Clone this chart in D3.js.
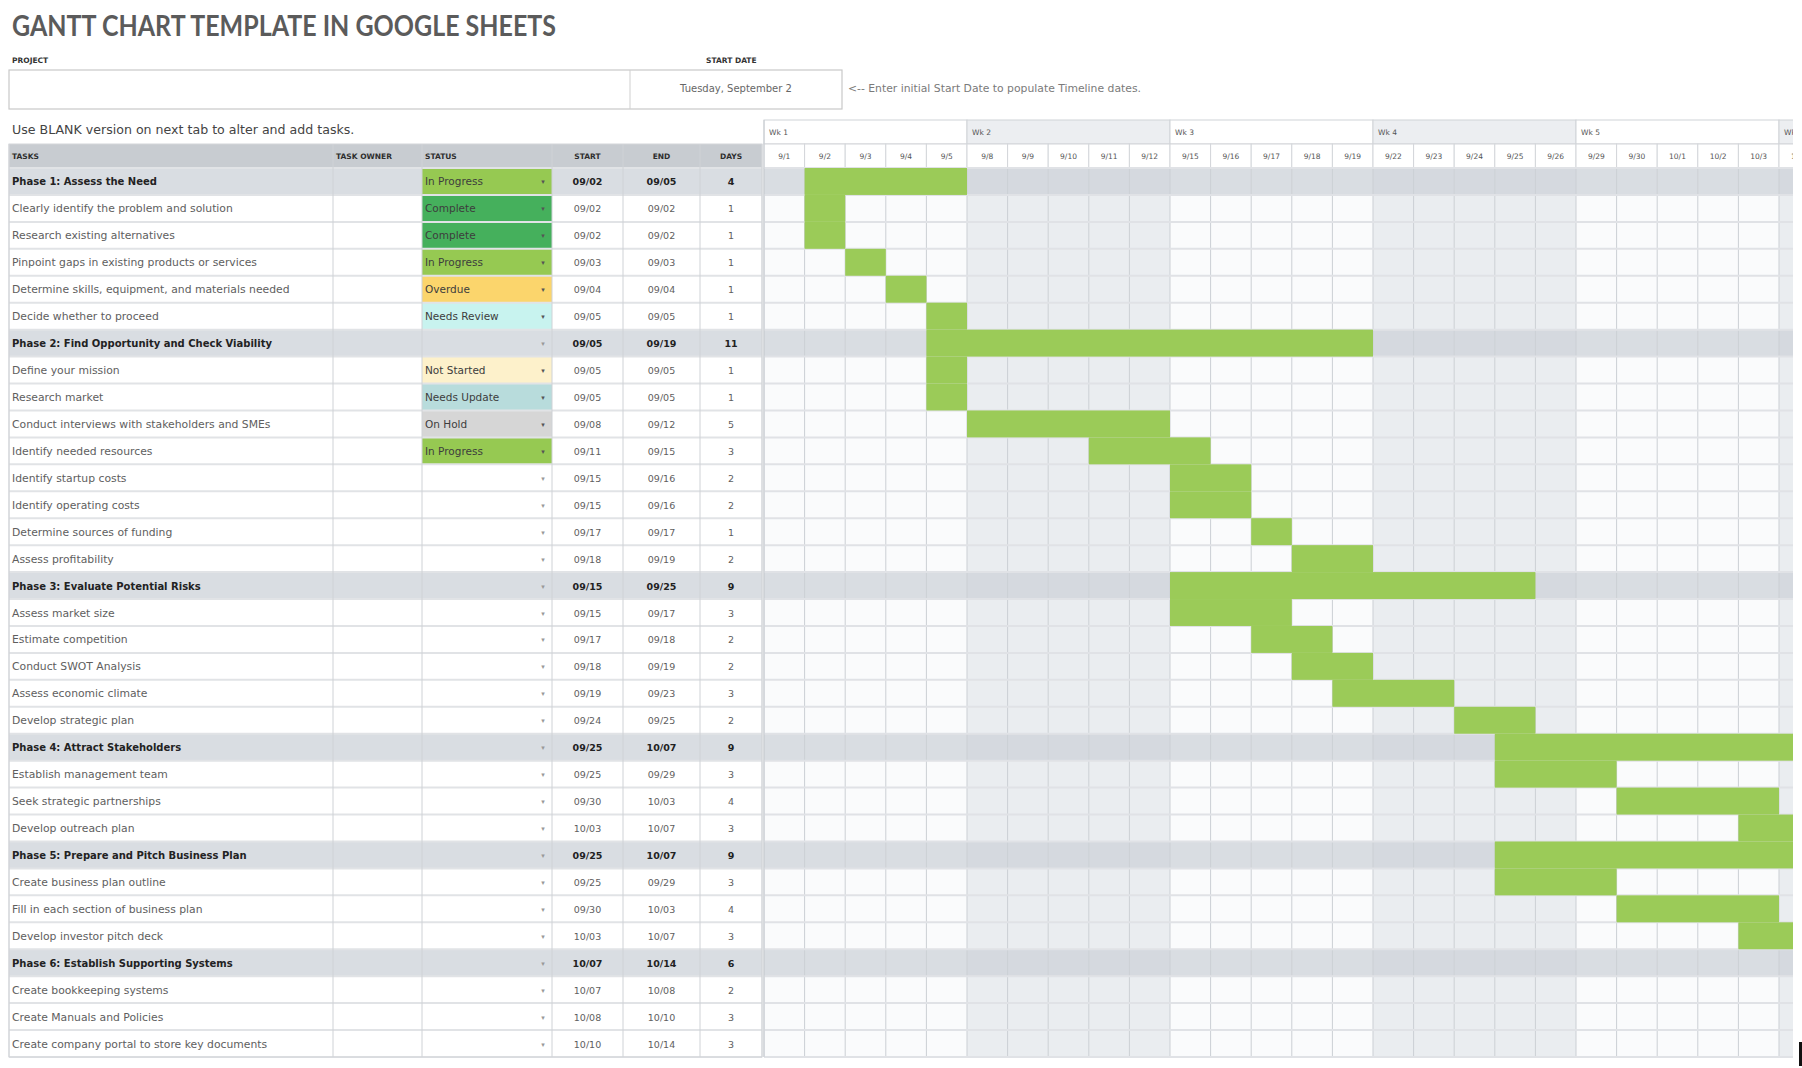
<!DOCTYPE html>
<html>
<head>
<meta charset="utf-8">
<script src="https://cdn.jsdelivr.net/npm/d3@7/dist/d3.min.js"></script>
<style>
  html, body { margin: 0; padding: 0; background: #ffffff; }
  svg { display: block; }
</style>
</head>
<body>
<svg id="chart" width="1802" height="1068"></svg>
<script>
// ---------------- DATA ----------------
const titleText = "GANTT CHART TEMPLATE IN GOOGLE SHEETS";
const startDateText = "Tuesday, September 2";
const noteText = "<-- Enter initial Start Date to populate Timeline dates.";
const hintText = "Use BLANK version on next tab to alter and add tasks.";
const headerLabels = ["TASKS", "TASK OWNER", "STATUS", "START", "END", "DAYS"];

const weekLabels = ["Wk 1", "Wk 2", "Wk 3", "Wk 4", "Wk 5", "Wk 6"];
const dayLabels = ["9/1","9/2","9/3","9/4","9/5","9/8","9/9","9/10","9/11","9/12",
  "9/15","9/16","9/17","9/18","9/19","9/22","9/23","9/24","9/25","9/26",
  "9/29","9/30","10/1","10/2","10/3","10/6","10/7","10/8","10/9","10/10","10/13","10/14"];

const tasks = [
  "Phase 1: Assess the Need",
  "Clearly identify the problem and solution",
  "Research existing alternatives",
  "Pinpoint gaps in existing products or services",
  "Determine skills, equipment, and materials needed",
  "Decide whether to proceed",
  "Phase 2: Find Opportunity and Check Viability",
  "Define your mission",
  "Research market",
  "Conduct interviews with stakeholders and SMEs",
  "Identify needed resources",
  "Identify startup costs",
  "Identify operating costs",
  "Determine sources of funding",
  "Assess profitability",
  "Phase 3: Evaluate Potential Risks",
  "Assess market size",
  "Estimate competition",
  "Conduct SWOT Analysis",
  "Assess economic climate",
  "Develop strategic plan",
  "Phase 4: Attract Stakeholders",
  "Establish management team",
  "Seek strategic partnerships",
  "Develop outreach plan",
  "Phase 5: Prepare and Pitch Business Plan",
  "Create business plan outline",
  "Fill in each section of business plan",
  "Develop investor pitch deck",
  "Phase 6: Establish Supporting Systems",
  "Create bookkeeping systems",
  "Create Manuals and Policies",
  "Create company portal to store key documents"
];
const owners = tasks.map(() => "");
const statuses = [
  "In Progress", "Complete", "Complete", "In Progress", "Overdue", "Needs Review",
  "", "Not Started", "Needs Update", "On Hold", "In Progress", "", "", "", "",
  "", "", "", "", "", "",
  "", "", "", "",
  "", "", "", "",
  "", "", "", ""
];
const starts = ["09/02","09/02","09/02","09/03","09/04","09/05",
  "09/05","09/05","09/05","09/08","09/11","09/15","09/15","09/17","09/18",
  "09/15","09/15","09/17","09/18","09/19","09/24",
  "09/25","09/25","09/30","10/03",
  "09/25","09/25","09/30","10/03",
  "10/07","10/07","10/08","10/10"];
const ends = ["09/05","09/02","09/02","09/03","09/04","09/05",
  "09/19","09/05","09/05","09/12","09/15","09/16","09/16","09/17","09/19",
  "09/25","09/17","09/18","09/19","09/23","09/25",
  "10/07","09/29","10/03","10/07",
  "10/07","09/29","10/03","10/07",
  "10/14","10/08","10/10","10/14"];
const days = [4,1,1,1,1,1, 11,1,1,5,3,2,2,1,2, 9,3,2,2,3,2, 9,3,4,3, 9,3,4,3, 6,2,3,3];

const statusColors = {
  "In Progress": "#96c952",
  "Complete": "#45b05c",
  "Overdue": "#fbd56c",
  "Needs Review": "#c8f3ef",
  "Not Started": "#fdf1cb",
  "Needs Update": "#b8dcdc",
  "On Hold": "#d6d6d6"
};

// ---------------- LAYOUT ----------------
const FONT = "'DejaVu Sans', sans-serif";
const svg = d3.select("#chart");
const colX = [9, 333, 422, 552, 623, 700, 762];   // table column boundaries
const tlX0 = 764, colW = 40.6, tlClip = 1793;
const weekTop = 120, headTop = 144, rowsTop = 168, rowsBottom = 1057;

const isPhase = tasks.map(t => /^Phase/.test(t));
const y = d3.scaleBand().domain(d3.range(tasks.length)).range([rowsTop, rowsBottom]);
const x = d3.scaleBand().domain(dayLabels).range([tlX0, tlX0 + colW * dayLabels.length]);
const toLabel = s => { const [m, d] = s.split("/"); return (+m) + "/" + (+d); };
const weekOf = i => Math.floor(i / 5);
const visibleDays = dayLabels.filter(d => x(d) < tlClip);
const visibleWeeks = weekLabels.filter((w, i) => x(dayLabels[i * 5]) < tlClip);

// ---------------- TITLE AREA ----------------
svg.append("text").attr("x", 12).attr("y", 36)
  .attr("font-family", "Lato, 'Open Sans', sans-serif").attr("font-weight", 700)
  .attr("font-size", 28).attr("fill", "#5b5b5b")
  .attr("textLength", 544).attr("lengthAdjust", "spacingAndGlyphs")
  .text(titleText);

svg.append("text").attr("x", 12).attr("y", 63).attr("font-family", FONT)
  .attr("font-weight", 700).attr("font-size", 7.5).attr("fill", "#333").text("PROJECT");
svg.append("text").attr("x", 706).attr("y", 63).attr("font-family", FONT)
  .attr("font-weight", 700).attr("font-size", 7.5).attr("fill", "#333").text("START DATE");

svg.append("rect").attr("x", 9).attr("y", 70).attr("width", 833).attr("height", 39)
  .attr("fill", "#fff").attr("stroke", "#c9c9c9").attr("stroke-width", 1.2);
svg.append("line").attr("x1", 630).attr("x2", 630).attr("y1", 70).attr("y2", 109)
  .attr("stroke", "#cfcfcf");
svg.append("text").attr("x", 736).attr("y", 92).attr("text-anchor", "middle")
  .attr("font-family", FONT).attr("font-size", 10).attr("fill", "#666").text(startDateText);
svg.append("text").attr("x", 848).attr("y", 92).attr("font-family", FONT)
  .attr("font-size", 10.8).attr("fill", "#7a7a7a").text(noteText);
svg.append("text").attr("x", 12).attr("y", 134).attr("font-family", FONT)
  .attr("font-size", 12.6).attr("fill", "#444").text(hintText);

// ---------------- TABLE ----------------
const table = svg.append("g");
table.append("rect").attr("x", colX[0]).attr("y", headTop).attr("width", colX[6] - colX[0])
  .attr("height", rowsTop - headTop).attr("fill", "#c8ccd1");
const headAnchor = ["start", "start", "start", "middle", "middle", "middle"];
headerLabels.forEach((h, i) => {
  const hx = headAnchor[i] === "start" ? colX[i] + 3 : (colX[i] + colX[i + 1]) / 2;
  table.append("text").attr("x", hx).attr("y", 159).attr("text-anchor", headAnchor[i])
    .attr("font-family", FONT).attr("font-weight", 700).attr("font-size", 7.5)
    .attr("fill", "#2e2e2e").text(h);
});

table.selectAll("rect.rowbg").data(tasks).join("rect").attr("class", "rowbg")
  .attr("x", colX[0]).attr("y", (d, i) => y(i)).attr("width", colX[6] - colX[0])
  .attr("height", y.bandwidth()).attr("fill", (d, i) => isPhase[i] ? "#d9dde2" : "#ffffff");

table.selectAll("rect.status").data(statuses).join("rect").attr("class", "status")
  .attr("x", colX[2]).attr("y", (d, i) => y(i)).attr("width", colX[3] - colX[2])
  .attr("height", y.bandwidth())
  .attr("fill", d => statusColors[d] || "none");

table.selectAll("line.rowsep").data(d3.range(tasks.length + 1)).join("line").attr("class", "rowsep")
  .attr("x1", colX[0]).attr("x2", colX[6])
  .attr("y1", i => i < tasks.length ? y(i) : rowsBottom).attr("y2", i => i < tasks.length ? y(i) : rowsBottom)
  .attr("stroke", "#e1e3e6").attr("stroke-width", 2);

table.selectAll("line.colsep").data(colX).join("line").attr("class", "colsep")
  .attr("x1", d => d).attr("x2", d => d).attr("y1", headTop).attr("y2", rowsBottom)
  .attr("stroke", "#cfd2d6").attr("stroke-width", 1);

table.selectAll("text.task").data(tasks).join("text").attr("class", "task")
  .attr("x", colX[0] + 3).attr("y", (d, i) => y(i) + y.bandwidth() / 2 + 4)
  .attr("font-family", FONT).attr("font-size", (d, i) => isPhase[i] ? 10 : 10.8)
  .attr("font-weight", (d, i) => isPhase[i] ? 700 : 400)
  .attr("fill", (d, i) => isPhase[i] ? "#222" : "#5e5e5e").text(d => d);

table.selectAll("text.owner").data(owners).join("text").attr("class", "owner")
  .attr("x", colX[1] + 3).attr("y", (d, i) => y(i) + y.bandwidth() / 2 + 4)
  .attr("font-family", FONT).attr("font-size", 10.8).attr("fill", "#555").text(d => d);

table.selectAll("text.stext").data(statuses).join("text").attr("class", "stext")
  .attr("x", colX[2] + 3).attr("y", (d, i) => y(i) + y.bandwidth() / 2 + 4)
  .attr("font-family", FONT).attr("font-size", 10.5).attr("fill", "#3d3d3d").text(d => d);
table.selectAll("text.arrow").data(statuses).join("text").attr("class", "arrow")
  .attr("x", colX[3] - 9).attr("y", (d, i) => y(i) + y.bandwidth() / 2 + 3)
  .attr("text-anchor", "middle").attr("font-family", FONT).attr("font-size", 7)
  .attr("fill", d => d ? "#555" : "#999").text("▾");

const cols = [[starts, 3], [ends, 4], [days, 5]];
cols.forEach(([arr, c]) => {
  table.selectAll("text.c" + c).data(arr).join("text").attr("class", "c" + c)
    .attr("x", (colX[c] + colX[c + 1]) / 2).attr("y", (d, i) => y(i) + y.bandwidth() / 2 + 4)
    .attr("text-anchor", "middle").attr("font-family", FONT).attr("font-size", 9.5)
    .attr("font-weight", (d, i) => isPhase[i] ? 700 : 400)
    .attr("fill", (d, i) => isPhase[i] ? "#222" : "#5e5e5e").text(d => d);
});

table.append("rect").attr("x", colX[0]).attr("y", headTop).attr("width", colX[6] - colX[0])
  .attr("height", rowsBottom - headTop).attr("fill", "none").attr("stroke", "#d4d6da");

// ---------------- TIMELINE ----------------
svg.append("clipPath").attr("id", "tlclip").append("rect")
  .attr("x", tlX0 - 2).attr("y", 0).attr("width", tlClip - tlX0 + 2).attr("height", 1068);
const tl = svg.append("g").attr("clip-path", "url(#tlclip)");

tl.selectAll("rect.wk").data(visibleWeeks).join("rect").attr("class", "wk")
  .attr("x", (d, i) => x(dayLabels[i * 5])).attr("y", weekTop)
  .attr("width", colW * 5).attr("height", headTop - weekTop)
  .attr("fill", (d, i) => i % 2 ? "#eceef1" : "#ffffff")
  .attr("stroke", "#d0d3d7");
tl.selectAll("text.wk").data(visibleWeeks).join("text").attr("class", "wk")
  .attr("x", (d, i) => x(dayLabels[i * 5]) + 5).attr("y", weekTop + 15)
  .attr("font-family", FONT).attr("font-size", 7.5).attr("fill", "#555").text(d => d);

tl.selectAll("rect.day").data(visibleDays).join("rect").attr("class", "day")
  .attr("x", d => x(d)).attr("y", headTop).attr("width", colW).attr("height", rowsTop - headTop)
  .attr("fill", "#ffffff").attr("stroke", "#d3d6da");
tl.selectAll("text.day").data(visibleDays).join("text").attr("class", "day")
  .attr("x", d => x(d) + colW / 2).attr("y", headTop + 15).attr("text-anchor", "middle")
  .attr("font-family", FONT).attr("font-size", 7.5).attr("fill", "#555").text(d => d);

const cells = [];
tasks.forEach((t, r) => visibleDays.forEach((d, c) => cells.push({ r, d, c })));
tl.selectAll("rect.cell").data(cells).join("rect").attr("class", "cell")
  .attr("x", o => x(o.d)).attr("y", o => y(o.r)).attr("width", colW).attr("height", y.bandwidth())
  .attr("fill", o => isPhase[o.r] ? (weekOf(o.c) % 2 ? "#d5d9df" : "#d9dde2")
                                   : (weekOf(o.c) % 2 ? "#eaedf0" : "#fafbfc"));

tl.selectAll("line.vg").data(visibleDays).join("line").attr("class", "vg")
  .attr("x1", d => x(d)).attr("x2", d => x(d)).attr("y1", rowsTop).attr("y2", rowsBottom)
  .attr("stroke", "#cbcfd4").attr("stroke-width", 1);
tl.selectAll("line.hg").data(d3.range(tasks.length + 1)).join("line").attr("class", "hg")
  .attr("x1", tlX0).attr("x2", tlClip)
  .attr("y1", i => i < tasks.length ? y(i) : rowsBottom).attr("y2", i => i < tasks.length ? y(i) : rowsBottom)
  .attr("stroke", "#e0e2e6").attr("stroke-width", 2);

tl.selectAll("rect.bar").data(tasks).join("rect").attr("class", "bar")
  .attr("x", (d, i) => x(toLabel(starts[i])))
  .attr("y", (d, i) => y(i))
  .attr("width", (d, i) => x(toLabel(ends[i])) + x.bandwidth() - x(toLabel(starts[i])))
  .attr("height", y.bandwidth())
  .attr("fill", "#9bcb58");

svg.append("line").attr("x1", tlX0).attr("x2", tlX0).attr("y1", weekTop).attr("y2", rowsBottom)
  .attr("stroke", "#c8ccd1");

svg.append("rect").attr("x", 1799).attr("y", 1042).attr("width", 3).attr("height", 24).attr("fill", "#111");
</script>
</body>
</html>
